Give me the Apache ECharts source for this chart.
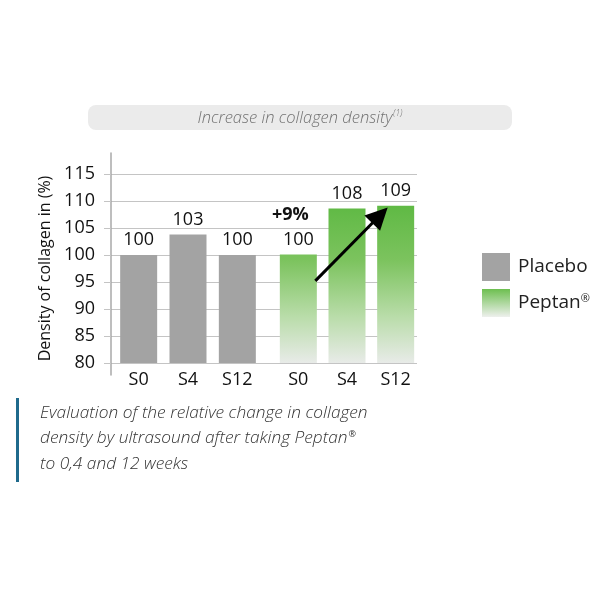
<!DOCTYPE html>
<html>
<head>
<meta charset="utf-8">
<script src="https://cdn.jsdelivr.net/npm/echarts@6/dist/echarts.min.js"></script>
<style>
  html, body { margin: 0; padding: 0; background: #fff; }
  #chart { width: 600px; height: 600px; }
</style>
</head>
<body>
<div id="chart"></div>
<script>
// data
const categories = ['S0', 'S4', 'S12'];
const placebo = [100, 103.8, 100];      // bars drawn a bit above the printed value
const peptan = [100.1, 108.6, 109.1];
const yMin = 80, yMax = 115, yStep = 5;
const arrowFrom = 95.2, arrowTo = 108.8; // arrow from S0 to S12 (peptan)
const gainText = '+9%';

const FONT = '"Open Sans", Lato, sans-serif';

let myChart = echarts.init(document.getElementById('chart'));

// one gradient across all peptan bars (global coords)
const peptanFill = new echarts.graphic.LinearGradient(0, 205, 0, 363, [
  { offset: 0, color: '#5fb944' },
  { offset: 0.35, color: '#7cc35e' },
  { offset: 0.7, color: '#b8dca8' },
  { offset: 1, color: '#e8ebe8' }
], true);
const peptanIcon = new echarts.graphic.LinearGradient(0, 0, 0, 1, [
  { offset: 0, color: '#6dbf50' },
  { offset: 1, color: '#eef0ed' }
]);

const valLabel = {
  show: true,
  position: 'top',
  distance: 6,
  fontFamily: FONT,
  fontSize: 18,
  color: '#111',
  formatter: p => Math.floor(p.value)
};

const hiddenY = { type: 'value', min: yMin, max: yMax, show: false };

myChart.setOption({
  animation: false,
  grid: [
    // 0: only the long y axis line
    { left: 111, right: 180, top: 153, bottom: 225 },
    // 1: gridlines, ticks, y labels
    { left: 111, right: 183, top: 174, bottom: 237 },
    // 2: placebo bars
    { left: 114, right: 338, top: 174, bottom: 237 },
    // 3: peptan bars
    { left: 274, right: 180, top: 174, bottom: 237 }
  ],
  xAxis: [
    { gridIndex: 0, type: 'value', show: false },
    { gridIndex: 1, type: 'value', show: false },
    {
      gridIndex: 2, type: 'category', data: categories,
      axisLine: { show: false }, axisTick: { show: false },
      axisLabel: { margin: 8, fontFamily: FONT, fontSize: 18, color: '#111' }
    },
    {
      gridIndex: 3, type: 'category', data: categories,
      axisLine: { show: false }, axisTick: { show: false },
      axisLabel: { margin: 8, fontFamily: FONT, fontSize: 18, color: '#111' }
    }
  ],
  yAxis: [
    {
      gridIndex: 0, type: 'value', min: 0, max: 1,
      axisLine: { show: true, lineStyle: { color: '#a8a8a8', width: 1.5 } },
      axisTick: { show: false }, axisLabel: { show: false }, splitLine: { show: false }
    },
    {
      gridIndex: 1, type: 'value', min: yMin, max: yMax, interval: yStep,
      axisLine: { show: false },
      axisTick: { show: true, length: 7, lineStyle: { color: '#c4c4c4' } },
      splitLine: { show: true, lineStyle: { color: '#c4c4c4', width: 1.2 } },
      axisLabel: { margin: 16, fontFamily: FONT, fontSize: 18, color: '#111' },
      name: 'Density of collagen in (%)',
      nameLocation: 'middle',
      nameGap: 56,
      nameTextStyle: { fontFamily: FONT, fontSize: 16, color: '#111' }
    },
    Object.assign({ gridIndex: 2 }, hiddenY),
    Object.assign({ gridIndex: 3 }, hiddenY)
  ],
  legend: {
    orient: 'vertical',
    left: 477,
    top: 248,
    itemWidth: 28,
    itemHeight: 28,
    itemGap: 8,
    icon: 'rect',
    data: [
      { name: 'Placebo', itemStyle: { color: '#a3a3a3' } },
      { name: 'Peptan', itemStyle: { color: peptanIcon } }
    ],
    formatter: name => name === 'Peptan' ? '{t|Peptan}{sup|®}' : '{t|' + name + '}',
    textStyle: {
      padding: [0, 0, 0, 3],
      rich: {
        t: { fontFamily: FONT, fontSize: 19, color: '#222' },
        sup: { fontFamily: FONT, fontSize: 11, color: '#222', verticalAlign: 'top', padding: [0, 0, 8, 0] }
      }
    }
  },
  series: [
    {
      name: 'Placebo', type: 'bar', xAxisIndex: 2, yAxisIndex: 2,
      data: placebo, barWidth: 37,
      itemStyle: { color: '#a3a3a3' },
      label: valLabel
    },
    {
      name: 'Peptan', type: 'bar', xAxisIndex: 3, yAxisIndex: 3,
      data: peptan, barWidth: 37,
      itemStyle: { color: peptanFill },
      label: valLabel
    }
  ]
});

// annotations placed through the peptan axes
const toPx = (cat, v) => myChart.convertToPixel({ xAxisIndex: 3, yAxisIndex: 3 }, [cat, v]);
const a0 = toPx(categories[0], arrowFrom);
const a1 = toPx(categories[2], arrowTo);
const start = [a0[0] + 17, a0[1]];
const tip = [a1[0] - 8, a1[1]];
const dx = tip[0] - start[0], dy = tip[1] - start[1];
const len = Math.sqrt(dx * dx + dy * dy);
const ux = dx / len, uy = dy / len;
const headLen = 22, headHalf = 11;
const base = [tip[0] - ux * headLen, tip[1] - uy * headLen];
const gainPos = toPx(categories[0], 107.4);

myChart.setOption({
  graphic: [
    // title band
    {
      type: 'rect', left: 88, top: 105,
      shape: { width: 424, height: 25, r: 8 },
      style: { fill: '#ebebeb' }, silent: true
    },
    {
      type: 'text', x: 300, y: 118,
      style: {
        text: '{t|Increase in collagen density}{s|(1)}',
        align: 'center', verticalAlign: 'middle',
        rich: {
          t: { fontFamily: FONT, fontStyle: 'italic', fontWeight: 300, fontSize: 16.5, fill: '#727272' },
          s: { fontFamily: FONT, fontStyle: 'italic', fontWeight: 300, fontSize: 8.5, fill: '#727272', verticalAlign: 'top', padding: [0, 0, 9, 1] }
        }
      }
    },
    // arrow, drawn above the bars
    {
      type: 'line', z: 100,
      shape: { x1: start[0], y1: start[1], x2: base[0] + ux * 2, y2: base[1] + uy * 2 },
      style: { stroke: '#000', lineWidth: 3 }
    },
    {
      type: 'polygon', z: 100,
      shape: {
        points: [
          tip,
          [base[0] - uy * headHalf, base[1] + ux * headHalf],
          [base[0] + uy * headHalf, base[1] - ux * headHalf]
        ]
      },
      style: { fill: '#000' }
    },
    {
      type: 'text', x: gainPos[0] - 8, y: gainPos[1], z: 100,
      style: {
        text: gainText, align: 'center', verticalAlign: 'middle',
        fontFamily: FONT, fontWeight: 'bold', fontSize: 18, fill: '#111'
      }
    },
    // caption
    {
      type: 'rect', left: 16, top: 398,
      shape: { width: 3, height: 84 },
      style: { fill: '#1f6a8c' }
    },
    {
      type: 'text', x: 40, y: 400,
      style: {
        text: 'Evaluation of the relative change in collagen\ndensity by ultrasound after taking Peptan{sup|®}\nto 0,4 and 12 weeks',
        fontFamily: FONT, fontStyle: 'italic', fontWeight: 300, fontSize: 17.3,
        lineHeight: 25.5, fill: '#333',
        rich: {
          sup: { fontFamily: FONT, fontSize: 9, fill: '#333', verticalAlign: 'middle', lineHeight: 25.5, padding: [0, 0, 8, 1] }
        }
      }
    }
  ]
});
</script>
</body>
</html>
